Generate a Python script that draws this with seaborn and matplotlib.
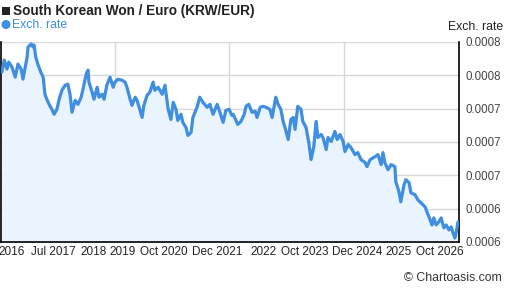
import matplotlib
matplotlib.use("Agg")
import matplotlib.pyplot as plt
from matplotlib.patches import Rectangle, Ellipse
import seaborn as sns
import pandas as pd
import numpy as np

# ---- data ----
years = [2016.02, 2016.07, 2016.13, 2016.17, 2016.24, 2016.31, 2016.37, 2016.44, 2016.48, 2016.52,
         2016.57, 2016.59, 2016.66, 2016.70, 2016.72, 2016.76, 2016.81, 2016.87, 2016.92, 2016.96,
         2017.00, 2017.05, 2017.11, 2017.16, 2017.22, 2017.27, 2017.33, 2017.40, 2017.46, 2017.51,
         2017.55, 2017.62, 2017.68, 2017.75, 2017.79, 2017.86, 2017.90, 2017.92, 2017.99, 2018.03,
         2018.10, 2018.14, 2018.21, 2018.25, 2018.31, 2018.38, 2018.45, 2018.49, 2018.55, 2018.64,
         2018.71, 2018.75, 2018.82, 2018.86, 2018.93, 2018.97, 2019.03, 2019.08, 2019.12, 2019.19,
         2019.25, 2019.32, 2019.36, 2019.43, 2019.52, 2019.58, 2019.62, 2019.65, 2019.71, 2019.76,
         2019.82, 2019.86, 2019.93, 2019.97, 2020.04, 2020.08, 2020.15, 2020.19, 2020.28, 2020.34,
         2020.41, 2020.50, 2020.56, 2020.63, 2020.72, 2020.78, 2020.85, 2020.91, 2020.98, 2021.04,
         2021.07, 2021.17, 2021.24, 2021.31, 2021.35, 2021.41, 2021.48, 2021.55, 2021.59, 2021.66,
         2021.72, 2021.79, 2021.87, 2021.92, 2021.96, 2022.00, 2022.05, 2022.11, 2022.16, 2022.20,
         2022.27, 2022.33, 2022.38, 2022.42, 2022.48, 2022.55, 2022.59, 2022.66, 2022.72, 2022.77,
         2022.83, 2022.88, 2022.92, 2022.99, 2023.03, 2023.10, 2023.14, 2023.21, 2023.29, 2023.34,
         2023.40, 2023.47, 2023.51, 2023.58, 2023.64, 2023.73, 2023.79, 2023.86, 2023.95, 2023.99,
         2024.06, 2024.17, 2024.23, 2024.30, 2024.34, 2024.38, 2024.45, 2024.52, 2024.60, 2024.62,
         2024.69, 2024.73, 2024.80, 2024.84, 2024.91, 2024.95, 2025.04, 2025.10, 2025.17, 2025.26,
         2025.30, 2025.37, 2025.41, 2025.45, 2025.50, 2025.56, 2025.61, 2025.67, 2025.72, 2025.78,
         2025.83, 2025.87, 2025.91, 2025.94, 2025.98]

# exchange rate in units of 1e-5 EUR per KRW
rate_e5 = [78.38, 79.83, 78.74, 79.59, 78.98, 77.78, 79.35, 78.74, 77.54, 78.74,
           80.19, 81.40, 81.76, 81.40, 81.64, 80.19, 79.23, 78.38, 77.78, 75.73,
           75.13, 74.52, 73.92, 73.32, 73.92, 75.13, 76.21, 76.81, 76.93, 75.61,
           73.56, 75.00, 74.52, 75.37, 76.33, 78.14, 78.62, 77.18, 75.97, 75.13,
           76.57, 75.37, 75.73, 75.13, 76.81, 77.78, 76.57, 77.18, 77.54, 77.42,
           77.18, 76.57, 75.13, 74.40, 75.37, 75.00, 73.92, 72.95, 74.40, 75.61,
           75.97, 77.18, 76.21, 76.57, 75.73, 76.81, 75.13, 73.92, 72.71, 74.76,
           73.92, 72.59, 73.32, 72.35, 71.75, 70.78, 71.15, 72.95, 74.16, 75.37,
           74.76, 74.16, 74.52, 73.32, 74.52, 73.56, 72.35, 73.80, 73.92, 73.20,
           73.32, 72.11, 72.47, 73.32, 74.28, 74.52, 73.56, 73.68, 72.95, 74.16,
           74.28, 74.16, 73.92, 72.95, 74.16, 75.37, 74.52, 73.92, 72.47, 71.75,
           70.30, 72.71, 72.95, 71.51, 74.28, 73.92, 72.47, 71.75, 69.94, 67.89,
           69.46, 72.47, 70.54, 70.90, 70.54, 69.10, 70.54, 70.06, 71.27, 70.30,
           70.90, 70.06, 68.85, 69.70, 69.34, 68.49, 68.73, 67.89, 67.53, 67.05,
           67.89, 68.25, 68.49, 67.29, 68.73, 67.53, 66.68, 67.29, 67.05, 65.24,
           64.03, 62.82, 64.87, 65.48, 65.12, 63.91, 63.67, 63.07, 62.70, 62.22,
           61.62, 60.65, 60.05, 60.89, 60.05, 60.41, 60.89, 59.69, 60.05, 59.45,
           59.81, 59.09, 58.48, 59.21, 60.41]

y_ticks = [0.00058, 0.00062, 0.00066, 0.00070, 0.00074, 0.00078, 0.00082]
x_tick_pos = [2016.24, 2017.14, 2018.03, 2018.66, 2019.56, 2020.72, 2021.74, 2022.64, 2023.77, 2024.67, 2025.59]
x_tick_labels = ["2016", "Jul 2017", "2018", "2019", "Oct 2020", "Dec 2021", "2022",
                 "Oct 2023", "Dec 2024", "2025", "Oct 2026"]
grid_x = [2018.49, 2020.98, 2023.49]

title = "South Korean Won / Euro (KRW/EUR)"
series_name = "Exch. rate"

df = pd.DataFrame({"year": years, "rate": np.array(rate_e5) * 1e-5})

# ---- style ----
sns.set_style("white")
plt.rcParams["font.family"] = ["Liberation Sans", "DejaVu Sans"]

LINE = "#3f8ee0"
FILL = "#eaf4fe"
W, H = 507, 288

fig = plt.figure(figsize=(W / 100, H / 100), dpi=100)
ax = fig.add_axes([1 / W, 1 - 242 / H, 458 / W, 200 / H])

ax.fill_between(df["year"], df["rate"], y_ticks[0], color=FILL, zorder=1, linewidth=0)
sns.lineplot(data=df, x="year", y="rate", ax=ax, color=LINE, linewidth=2.3, zorder=3)

ax.set_xlim(2016.0, 2026.0)
ax.set_ylim(y_ticks[0], y_ticks[-1])

ax.yaxis.tick_right()
ax.set_yticks(y_ticks)
ax.set_yticklabels([f"{v:.4f}" for v in y_ticks])
ax.set_xticks(x_tick_pos)
ax.set_xticklabels(x_tick_labels)
ax.set_xticks(grid_x, minor=True)
ax.tick_params(axis="y", length=0, pad=5, labelsize=8.3, colors="#444444")
ax.tick_params(axis="x", which="both", length=0, pad=3, labelsize=8.5, colors="#222222")
ax.set_xlabel("")
ax.set_ylabel("")

ax.grid(False)
ax.yaxis.grid(True, color="#d8d8d8", linewidth=1, zorder=0)
ax.xaxis.grid(True, which="minor", color="#d8d8d8", linewidth=1, zorder=0)
ax.set_axisbelow(True)

ax.spines["top"].set_visible(False)
for s in ["left", "right", "bottom"]:
    ax.spines[s].set_visible(True)
    ax.spines[s].set_color("#000000")
    ax.spines[s].set_linewidth(1.2)

# ---- header / legend / credits ----
fig.patches.append(Rectangle((2 / W, 1 - 15 / H), 8 / W, 8 / H, transform=fig.transFigure,
                             facecolor="#222222", edgecolor="none"))
fig.text(13 / W, 1 - 11 / H, title, fontsize=9.8, fontweight="bold", color="#222222",
         va="center", ha="left")
fig.patches.append(Ellipse((6 / W, 1 - 24.5 / H), 9 / W, 9 / H, transform=fig.transFigure,
                           facecolor=LINE, edgecolor="none"))
fig.text(12 / W, 1 - 25 / H, series_name, fontsize=8.8, color=LINE, va="center", ha="left")
fig.text(503 / W, 1 - 27 / H, series_name, fontsize=8.8, color="#222222", va="center", ha="right")
fig.text(502 / W, 1 - 278 / H, "\u00A9 Chartoasis.com", fontsize=8.8, color="#333333",
         va="center", ha="right")

fig.savefig("out.png", dpi=100)
